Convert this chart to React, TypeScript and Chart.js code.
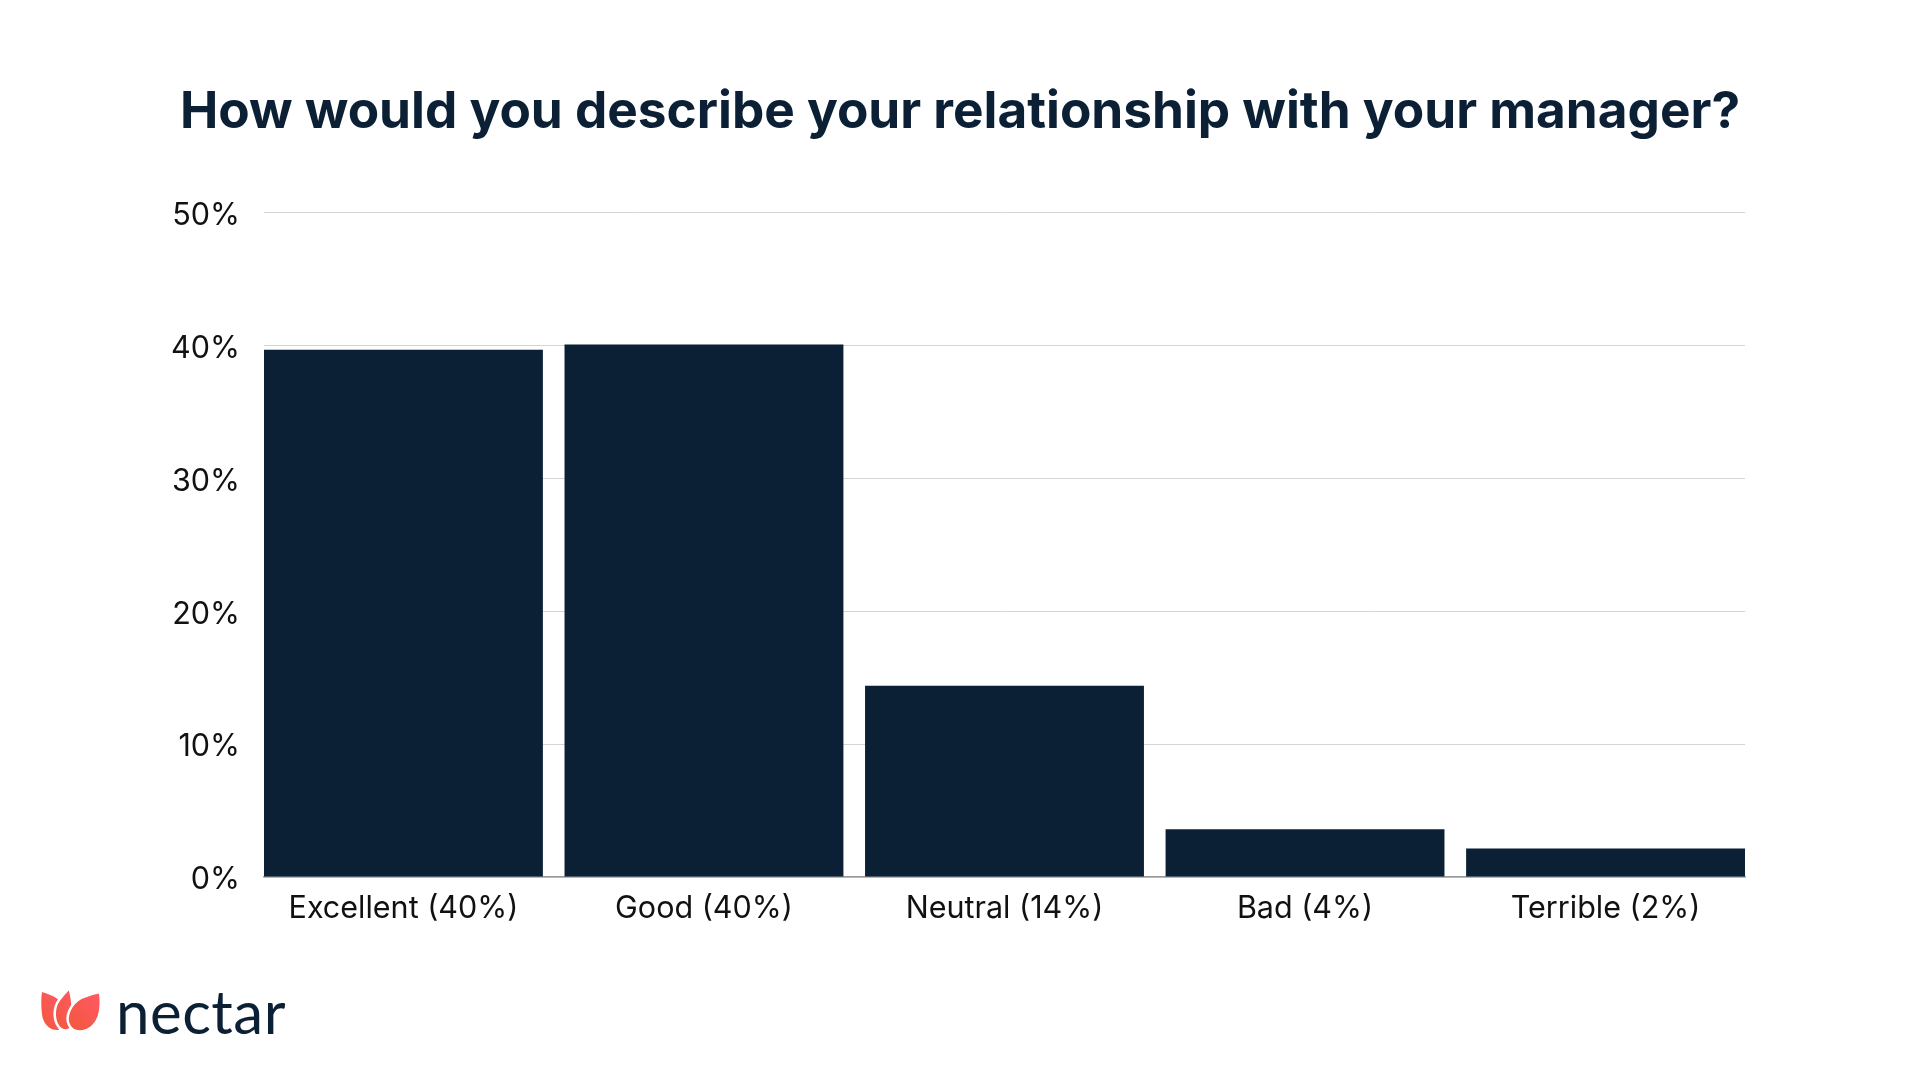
import React, { useEffect, useRef } from "react";
import { Chart, registerables } from "chart.js";

Chart.register(...registerables);

const TITLE = "How would you describe your relationship with your manager?";
const categories = ["Excellent (40%)", "Good (40%)", "Neutral (14%)", "Bad (4%)", "Terrible (2%)"];
const values = [39.7, 40.1, 14.4, 3.6, 2.15];
const yTicks = [0, 10, 20, 30, 40, 50];

const NAVY = "#0b1f35";
const BAR_FRACTION = 0.928;

export default function App() {
  const ref = useRef<HTMLCanvasElement | null>(null);

  useEffect(() => {
    if (!ref.current) return;
    const half = BAR_FRACTION / 2;
    const chart = new Chart(ref.current, {
      type: "bar",
      data: {
        datasets: [
          {
            data: values.map((v, i) => ({ x: i, y: v })),
            backgroundColor: NAVY,
            borderWidth: 0,
            barPercentage: BAR_FRACTION,
            categoryPercentage: 1,
          },
        ],
      },
      options: {
        animation: false,
        responsive: false,
        maintainAspectRatio: false,
        layout: { padding: { left: 0, right: 0, top: 0, bottom: 140 } },
        plugins: {
          legend: { display: false },
          tooltip: { enabled: false },
          title: {
            display: true,
            text: TITLE,
            color: NAVY,
            font: { family: "Inter", size: 51.3, weight: "bold" },
            padding: { top: 82, bottom: 69.4 },
          },
        },
        scales: {
          x: {
            type: "linear",
            offset: false,
            min: -half,
            max: categories.length - 1 + half,
            afterBuildTicks: (s: any) => {
              s.ticks = categories.map((_, i) => ({ value: i }));
            },
            grid: { display: false, drawTicks: false, offset: false },
            border: { display: true, color: "#9a9a9a", width: 1.5 },
            ticks: {
              color: "#111111",
              font: { family: "Inter", size: 30.5 },
              padding: 14,
              maxRotation: 0,
              autoSkip: false,
              callback: (v: any) => categories[v] ?? "",
            },
            afterFit: (s: any) => {
              s.height = 63;
            },
          },
          y: {
            min: 0,
            max: 50,
            afterBuildTicks: (s: any) => {
              s.ticks = yTicks.map((v) => ({ value: v }));
            },
            grid: { color: "#d4d4d4", lineWidth: 1, drawTicks: false },
            border: { display: false },
            ticks: {
              color: "#111111",
              font: { family: "Inter", size: 30.5 },
              padding: 24,
              labelOffset: 3,
              callback: (v: any) => `${v}%`,
            },
            afterFit: (s: any) => {
              s.width = 264;
            },
          },
          y2: {
            position: "right",
            display: true,
            grid: { display: false, drawTicks: false },
            border: { display: false },
            ticks: { display: false },
            afterFit: (s: any) => {
              s.width = 175;
            },
          },
        },
      },
    });
    return () => chart.destroy();
  }, []);

  return (
    <div style={{ position: "relative", width: 1920, height: 1080, background: "#fff", overflow: "hidden" }}>
      <style>{`body{margin:0;}`}</style>
      <canvas ref={ref} width={1920} height={1080} style={{ position: "absolute", left: 0, top: 0, width: 1920, height: 1080 }} />
      <div style={{ position: "absolute", left: 40, top: 986, display: "flex", alignItems: "center" }}>
        <svg width={62} height={50} viewBox="0 0 62 50">
          <defs>
            <linearGradient id="pg" x1="0" y1="1" x2="1" y2="0">
              <stop offset="0" stopColor="#f2573a" />
              <stop offset="1" stopColor="#ff5a66" />
            </linearGradient>
          </defs>
          <path d="M2 6 C8 8 14 10 19 14 C14 22 14 34 19 44 C10 45 3 38 2 28 C1 20 1 12 2 6 Z" fill="url(#pg)" />
          <path d="M29 2 C33 10 32 20 34 32 C35 42 28 47 21 43 C13 37 13 22 19 14 C23 9 26 5 29 2 Z" fill="url(#pg)" stroke="#fff" strokeWidth={2.5} />
          <path d="M60 6 C62 20 61 32 53 40 C45 48 33 47 29 39 C25 31 30 18 41 12 C47 9 53 7 60 6 Z" fill="url(#pg)" stroke="#fff" strokeWidth={2.5} />
        </svg>
        <span style={{ marginLeft: 14, fontFamily: "Lato, sans-serif", fontSize: 60, color: NAVY, lineHeight: "50px", letterSpacing: 0.5 }}>nectar</span>
      </div>
    </div>
  );
}
